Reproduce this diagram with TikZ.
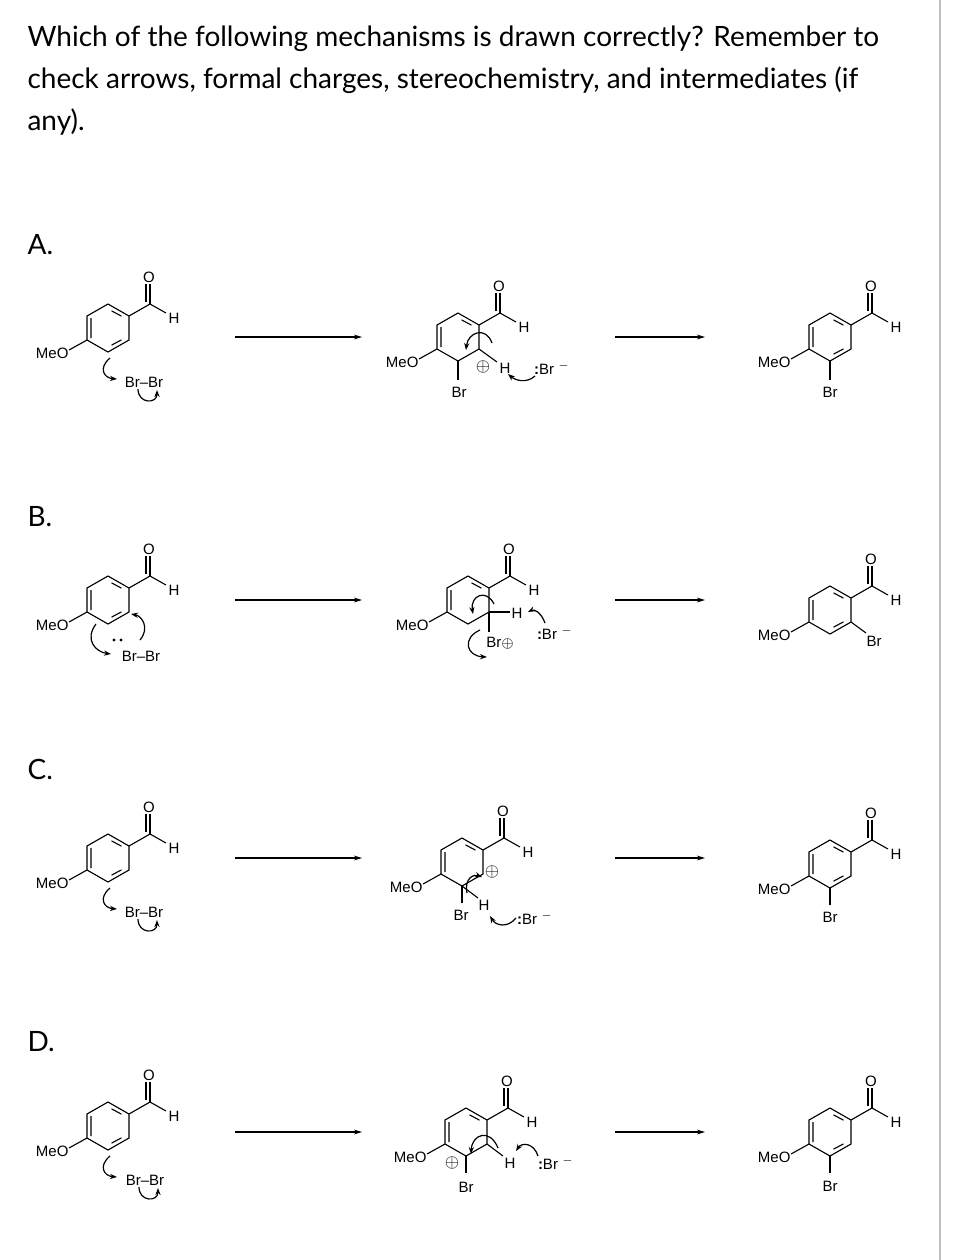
\documentclass[tikz,border=0pt]{standalone}
\usepackage{fontspec}
\setmainfont{Lato}
\newfontfamily\chem{Liberation Sans}
\usetikzlibrary{arrows.meta,calc}
\begin{document}
\begin{tikzpicture}[x=0.5pt,y=-0.5pt,line width=0.55pt,
 lab/.style={font=\chem\fontsize{7.5}{9}\selectfont,inner sep=0.5pt},
 rxn/.style={-{Stealth[length=4pt,width=2.4pt]},line width=0.6pt},
 carr/.style={-{Stealth[length=3.5pt,width=2.6pt]},line width=0.6pt},
 qtxt/.style={font=\fontsize{14}{17}\selectfont,anchor=base west,inner sep=0},
 ring/.pic={
  \draw (0,-24)--(21,-12)--(21,12)--(0,24)--(-21,12)--(-21,-12)--cycle;
  \draw (-21,12)--(-39,22);
  \node[lab,anchor=east] (-meo) at (-38,25) {MeO};
  \draw (21,-12)--(42,-24) coordinate (-c);
  \draw (42,-24)--(42,-44) (38,-26)--(38,-44);
  \node[lab] (-o) at (41,-51) {O};
  \draw (42,-24)--(58,-15);
  \node[lab] (-h) at (66,-10) {H};
  \draw[shorten >=2pt,shorten <=2pt] (-17,-10)--(-17,10) (0,-19)--(17,-10);
 },
 arom/.pic={
  \pic {ring};
  \draw[shorten >=2pt,shorten <=2pt] (17,10)--(0,19);
 }]
\useasboundingbox (0,0) rectangle (958,1260);
\draw[gray!50,line width=1pt] (940,0)--(940,1260);
\node[qtxt] (q1) at (27,46) {Which of the following mechanisms is drawn correctly? Remember to};
\node[qtxt] (q2) at (27,88) {check arrows, formal charges, stereochemistry, and intermediates (if};
\node[qtxt] (q3) at (27,130) {any).};
\node[qtxt] (la) at (27,254) {A.};
\node[qtxt] (lb) at (27,526) {B.};
\node[qtxt] (lc) at (27,779) {C.};
\node[qtxt] (ld) at (27,1051) {D.};
\foreach \y/\n in {337/a,600/b,858/c,1132/d}{
 \coordinate (\n1s) at (235,\y); \coordinate (\n1e) at (362,\y);
 \coordinate (\n2s) at (615,\y); \coordinate (\n2e) at (705,\y);
 \draw[rxn] (\n1s)--(\n1e); \draw[rxn] (\n2s)--(\n2e);}
% ===== A =====
\pic (A1) at (108,328) {arom};
\node[lab] (abb) at (144,382) {Br–Br};
\draw[carr] (110,358) .. controls (98,368) and (104,378) .. (117,379);
\draw[carr] (138,389) .. controls (138,404) and (157,404) .. (157,390);
\pic (A2) at (458,337) {ring};
\draw (458,361)--(458,380); \node[lab] (abr2) at (459,392) {Br};
\draw (479,349)--(497,362); \node[lab] (ah2) at (505,368) {H};
\node[lab] (ap2) at (483,367) {\small$\oplus$};
\draw[carr] (492,343) .. controls (486,326) and (468,332) .. (466,350);
\node[lab] (abm2) at (552,368) {\textbf{:}Br $^{-}$};
\draw[carr] (535,376) .. controls (526,384) and (515,380) .. (508,374);
\pic (A3) at (830,337) {arom};
\draw (830,361)--(830,380); \node[lab] (abr3) at (830,392) {Br};
% ===== B =====
\pic (B1) at (108,600) {arom};
\node[lab] (bbb) at (141,656) {Br–Br};
\draw[carr] (96,624) .. controls (84,640) and (96,652) .. (111,654);
\draw[carr] (140,640) .. controls (150,628) and (142,616) .. (131,614);
\fill (114,640) circle (1.6) (121,640) circle (1.6);
\pic (B2) at (468,600) {ring};
\draw (489,612)--(510,612); \node[lab] (bh2) at (517,613) {H};
\draw (489,612)--(489,632);
\node[lab] (bbr2) at (500,643) {Br$\oplus$};
\draw[carr] (494,604) .. controls (486,588) and (470,596) .. (473,614);
\draw[carr] (480,630) .. controls (462,638) and (466,656) .. (487,657);
\node[lab] (bbm2) at (555,633) {\textbf{:}Br $^{-}$};
\draw[carr] (545,623) .. controls (541,612) and (534,609) .. (528,612);
\pic (B3) at (830,610) {arom};
\draw (851,622)--(866,633); \node[lab] (bbr3) at (874,641) {Br};
% ===== C =====
\pic (C1) at (108,858) {arom};
\node[lab] (cbb) at (144,912) {Br–Br};
\draw[carr] (110,888) .. controls (98,898) and (104,908) .. (117,909);
\draw[carr] (138,919) .. controls (138,934) and (157,934) .. (157,920);
\pic (C2) at (462,862) {ring};
\draw (462,886)--(462,903); \node[lab] (cbr2) at (461,915) {Br};
\draw (462,886)--(478,898); \node[lab] (ch2) at (484,905) {H};
\node[lab] (cp2) at (492,872) {\small$\oplus$};
\draw[carr] (467,893) .. controls (464,878) and (474,874) .. (482,877);
\node[lab] (cbm2) at (535,918) {\textbf{:}Br $^{-}$};
\draw[carr] (516,918) .. controls (508,928) and (496,926) .. (490,916);
\pic (C3) at (830,864) {arom};
\draw (830,888)--(830,905); \node[lab] (cbr3) at (830,917) {Br};
% ===== D =====
\pic (D1) at (108,1126) {arom};
\node[lab] (dbb) at (145,1180) {Br–Br};
\draw[carr] (110,1156) .. controls (98,1166) and (104,1176) .. (117,1177);
\draw[carr] (139,1187) .. controls (139,1202) and (158,1202) .. (158,1188);
\pic (D2) at (466,1132) {ring};
\draw (466,1156)--(466,1173); \node[lab] (dbr2) at (466,1187) {Br};
\draw (487,1144)--(503,1156); \node[lab] (dh2) at (510,1163) {H};
\node[lab] (dp2) at (452,1163) {\small$\oplus$};
\draw[carr] (498,1148) .. controls (490,1128) and (472,1134) .. (471,1154);
\node[lab] (dbm2) at (556,1163) {\textbf{:}Br $^{-}$};
\draw[carr] (538,1156) .. controls (534,1143) and (522,1142) .. (516,1151);
\pic (D3) at (830,1132) {arom};
\draw (830,1156)--(830,1173); \node[lab] (dbr3) at (830,1186) {Br};
\end{tikzpicture}
\end{document}
